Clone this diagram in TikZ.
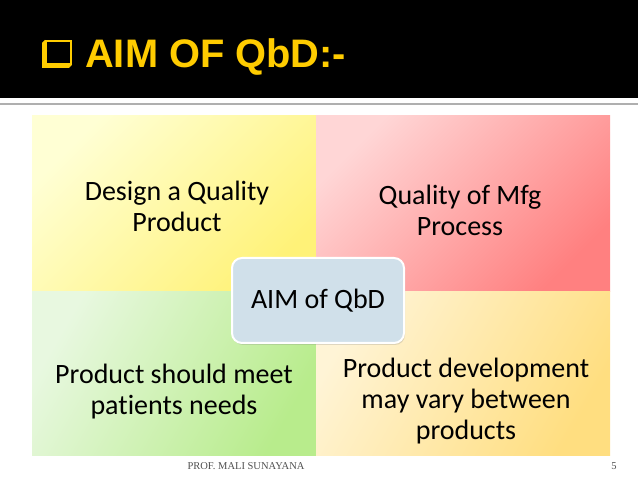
\documentclass[tikz,border=0pt]{standalone}
\usepackage{fontspec}
\setmainfont{Carlito}[Ligatures=NoCommon]
\newfontfamily\titlefont{Liberation Sans}
\newfontfamily\footfont{Liberation Serif}
\usetikzlibrary{shadows}
\definecolor{gold}{RGB}{255,204,0}
\definecolor{linegray}{RGB}{175,175,175}
\definecolor{aimblue}{RGB}{208,224,234}
\definecolor{footgray}{RGB}{80,80,80}
\definecolor{ylA}{RGB}{255,255,212}
\definecolor{ylB}{RGB}{255,242,120}
\definecolor{pkA}{RGB}{255,214,214}
\definecolor{pkB}{RGB}{255,128,128}
\definecolor{grA}{RGB}{232,248,224}
\definecolor{grB}{RGB}{184,236,140}
\definecolor{orA}{RGB}{255,244,214}
\definecolor{orB}{RGB}{255,222,128}
\tikzset{
  qtext/.style={font=\fontsize{28}{31}\selectfont, align=center, inner sep=0, text=black},
}
\begin{document}
\begin{tikzpicture}[x=1pt,y=-1pt]
\useasboundingbox (0,0) rectangle (638,478);
\fill[white] (0,0) rectangle (638,478);
\fill[black] (0,0) rectangle (638,98);
\draw[linegray, line width=2] (0,104) -- (638,104);
% title bullet box
\fill[gold] (45,40) -- (42,43) -- (42,68) -- (69,68) -- (72,65) -- (45,65) -- cycle;
\draw[gold, line width=2.2, fill=black] (46,41) rectangle (71,64);
\node[anchor=base west, text=gold, font=\titlefont\bfseries\fontsize{39.8}{40}\selectfont, inner sep=0] (title) at (85,68) {AIM OF QbD:-};
% quadrants
\shade[top color=ylA, bottom color=ylB, shading angle=45] (32,116) rectangle (316,292);
\shade[top color=pkA, bottom color=pkB, shading angle=45] (316,116) rectangle (610,292);
\shade[top color=grA, bottom color=grB, shading angle=60] (32,292) rectangle (316,456);
\shade[top color=orA, bottom color=orB, shading angle=60] (316,292) rectangle (610,456);
\node[qtext] (tl) at (177,206) {Design a Quality\\Product};
\node[qtext] (tr) at (460,210) {Quality of Mfg\\Process};
\node[qtext] (bl) at (174,392) {Product should meet\\patients needs};
\node[qtext] (br) at (466,401) {Product development\\may vary between\\products};
% centre
\node[draw=white, line width=2, fill=aimblue, rounded corners=10, minimum width=172, minimum height=85, inner sep=0,
      drop shadow={shadow xshift=1pt, shadow yshift=-2pt, opacity=0.25},
      font=\fontsize{28}{31}\selectfont] (aim) at (318,300.5) {AIM of QbD};
% footer
\node[font=\footfont\fontsize{10.5}{12}\selectfont, text=footgray, inner sep=0] (foot) at (246,466) {PROF. MALI SUNAYANA};
\node[font=\footfont\fontsize{10.5}{12}\selectfont, text=footgray, inner sep=0] (num) at (614,466) {5};
\end{tikzpicture}
\end{document}
